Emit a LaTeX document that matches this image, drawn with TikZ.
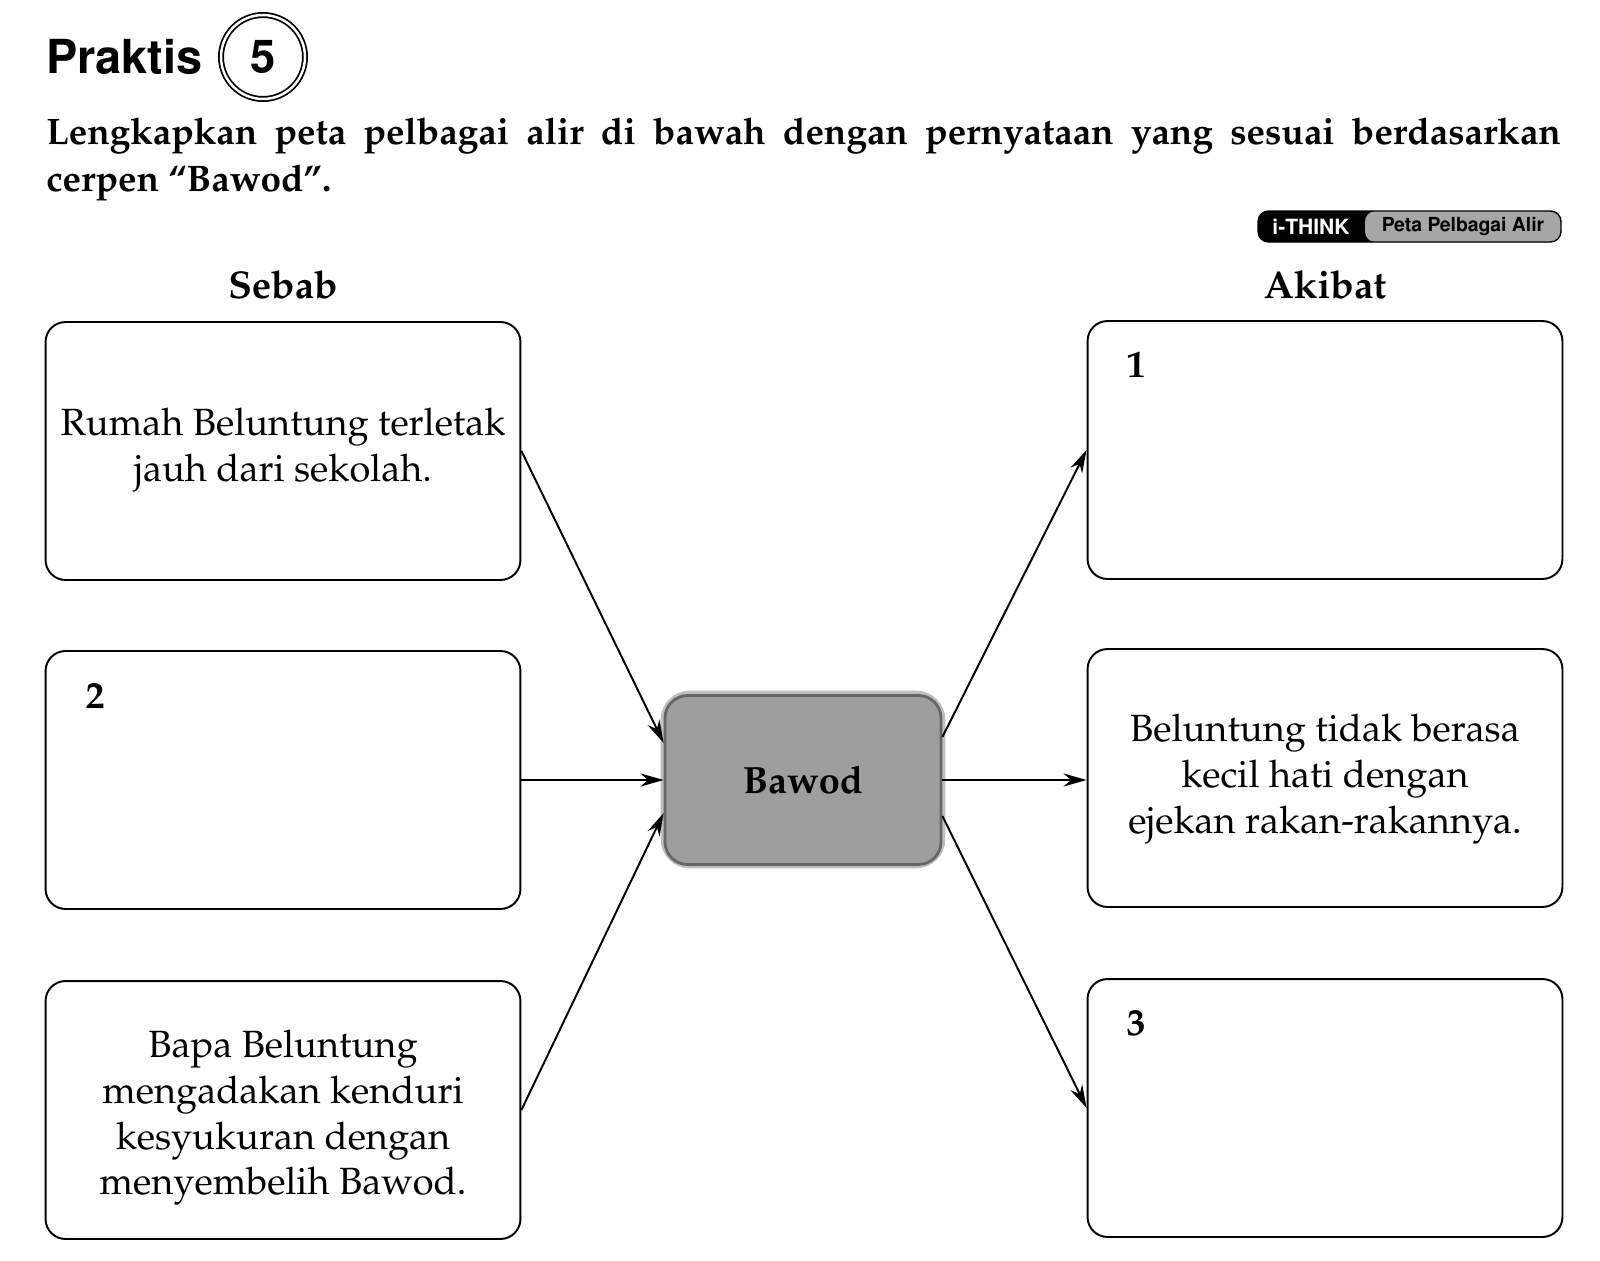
\documentclass[tikz,border=0pt]{standalone}
\usepackage[T1]{fontenc}
\usepackage{mathpazo}
\usepackage[scaled=0.92]{helvet}
\usepackage{tikz}
\usetikzlibrary{arrows.meta, positioning, calc}
\newcommand{\boxfont}{\fontsize{21.6}{26}\selectfont}

\begin{document}
\begin{tikzpicture}[x=0.02cm, y=-0.02cm,
    mapbox/.style={draw, line width=1.1pt, rounded corners=0.4cm,
      minimum width=9.5cm, minimum height=5.16cm, align=center,
      font=\boxfont, inner sep=0pt},
    centrebox/.style={draw=black!60, line width=1.6pt, fill=black!38,
      rounded corners=0.45cm, minimum width=5.52cm, minimum height=3.38cm,
      font=\boxfont\bfseries},
    flow/.style={line width=1.1pt, -{Stealth[length=0.46cm, width=0.26cm]}},
    numlabel/.style={font=\boxfont\bfseries},
    colhead/.style={font=\fontsize{22}{27}\selectfont\bfseries}]
    \useasboundingbox (0,0) rectangle (1600,1261);

    % Title
    \node[anchor=west, font=\fontsize{29}{32}\selectfont\sffamily\bfseries, inner sep=0pt]
      (title) at (46,57) {Praktis};
    \node[draw, circle, double, double distance=1.4pt, line width=1pt,
      minimum size=1.68cm, font=\fontsize{28}{30}\selectfont\sffamily\bfseries]
      (num) at (263,57) {5};

    % Instruction
    \node[anchor=north west, text width=30.3cm, align=justify, inner sep=0pt,
      font=\fontsize{21}{27.2}\selectfont\bfseries] (task) at (46,117)
      {Lengkapkan peta pelbagai alir di bawah dengan pernyataan yang sesuai berdasarkan\linebreak cerpen ``Bawod''.};

    % i-THINK badge
    \fill[black, rounded corners=6] (1258,211) rectangle (1561,242);
    \fill[black!35, rounded corners=6] (1365,211) rectangle (1561,242);
    \draw[line width=0.8pt, rounded corners=6] (1258,211) rectangle (1561,242);
    \node[white, font=\fontsize{13}{15}\selectfont\sffamily\bfseries] (badgea) at (1311,227) {i-THINK};
    \node[font=\fontsize{12}{14}\selectfont\sffamily\bfseries] (badgeb) at (1463,227) {Peta Pelbagai Alir};

    % Column heads
    \node[colhead] (sebab) at (283,285) {Sebab};
    \node[colhead] (akibat) at (1325,285) {Akibat};

    % Cause boxes
    \node[mapbox] (l1) at (283,451) {};
    \node[mapbox] (l2) at (283,780) {};
    \node[mapbox] (l3) at (283,1110) {};
    \node[font=\boxfont, align=center] (l1txt) at (283,450)
      {Rumah Beluntung terletak\\ jauh dari sekolah.};
    \node[font=\boxfont, align=center] (l3txt) at (283,1118)
      {Bapa Beluntung\\ mengadakan kenduri\\ kesyukuran dengan\\ menyembelih Bawod.};
    \node[numlabel] (n2) at (95,696) {2};

    % Effect boxes
    \node[mapbox] (r1) at (1325,450) {};
    \node[mapbox] (r2) at (1325,778) {};
    \node[mapbox] (r3) at (1325,1108) {};
    \node[font=\boxfont, align=center] (r2txt) at (1325,779)
      {Beluntung tidak berasa\\ kecil hati dengan\\ ejekan rakan-rakannya.};
    \node[numlabel] (n1) at (1136,365) {1};
    \node[numlabel] (n3) at (1136,1023) {3};

    % Centre
    \draw[black!25, line width=5pt, rounded corners=0.5cm] (665,695) rectangle (941,864);
    \node[centrebox] (bw) at (803,780) {Bawod};

    % Connectors
    \coordinate (bwin1) at ([yshift=0.74cm]bw.west);
    \coordinate (bwin3) at ([yshift=-0.66cm]bw.west);
    \coordinate (bwout1) at ([yshift=0.86cm]bw.east);
    \coordinate (bwout3) at ([yshift=-0.72cm]bw.east);
    \draw[flow] (l1.east) -- (bwin1);
    \draw[flow] (l2.east) -- (l2.east -| bw.west);
    \draw[flow] (l3.east) -- (bwin3);
    \draw[flow] (bwout1) -- (r1.west);
    \draw[flow] (bw.east) -- (bw.east -| r2.west);
    \draw[flow] (bwout3) -- (r3.west);
\end{tikzpicture}
\end{document}
